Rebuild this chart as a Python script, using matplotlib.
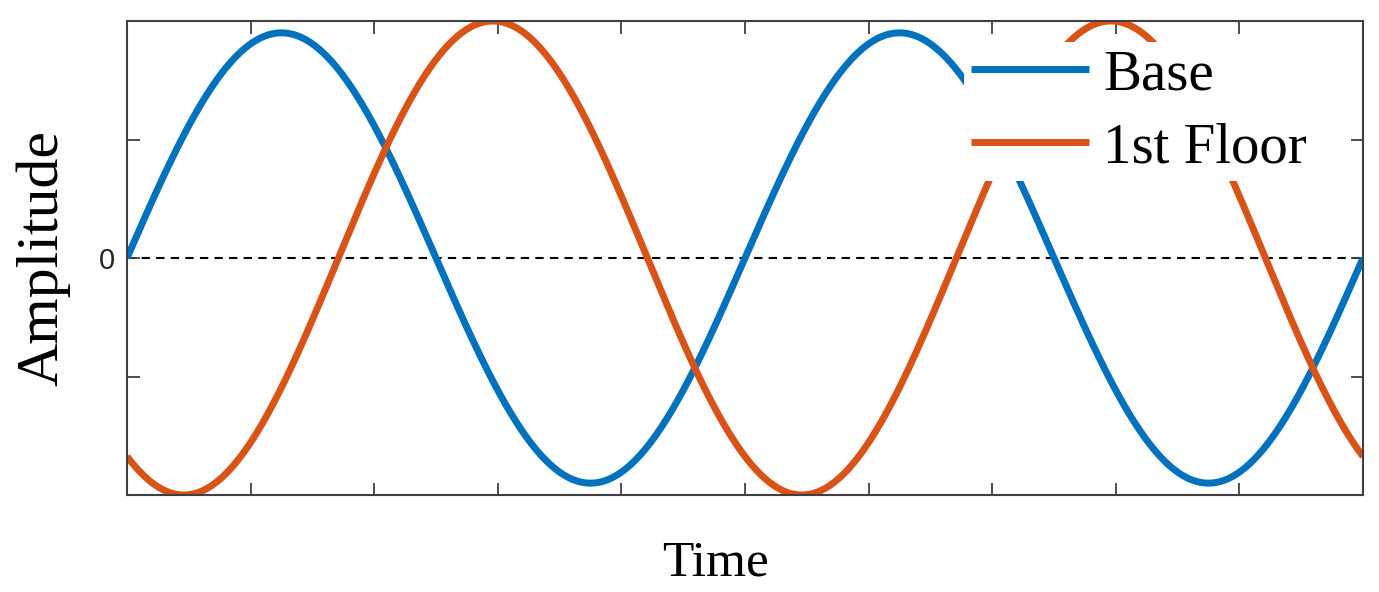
import matplotlib
matplotlib.use("Agg")
import matplotlib.pyplot as plt
import numpy as np

# values (time in tick units, 10 intervals)
time_ticks = [0, 1, 2, 3, 4, 5, 6, 7, 8, 9, 10]
amp_ticks = [-2, -1, 0, 1, 2]
amp_tick_labels = ["", "", "0", "", ""]

series_names = ["Base", "1st Floor"]
series_colors = ["#0072BD", "#D95319"]
amplitudes = [1.9, 2.0]      # peak height of each wave
periods = [5.0, 5.0]         # one cycle spans 5 tick intervals
lags = [0.0, 1.71]           # upward zero crossing of each wave

t = np.linspace(time_ticks[0], time_ticks[-1], 1200)

fig = plt.figure(figsize=(13.79, 5.92), dpi=100)
ax = fig.add_axes([127 / 1379, 1 - 495 / 592, 1236 / 1379, 474 / 592])

for name, color, a, p, lag in zip(series_names, series_colors, amplitudes, periods, lags):
    ax.plot(t, a * np.sin(2 * np.pi * (t - lag) / p), color=color, lw=5, label=name,
            solid_capstyle="butt")

ax.axhline(0, color="black", lw=1.5, ls=(0, (4, 3)), zorder=1)

ax.set_xlim(time_ticks[0], time_ticks[-1])
ax.set_ylim(amp_ticks[0], amp_ticks[-1])
ax.set_xticks(time_ticks)
ax.set_xticklabels([])
ax.set_yticks(amp_ticks)
ax.set_yticklabels(amp_tick_labels)
ax.tick_params(direction="in", length=9, width=1.3, color="#404040", top=True, right=True,
               pad=9, labelsize=21, labelcolor="#262626", labelfontfamily="Liberation Sans")
for s in ax.spines.values():
    s.set_color("#404040")
    s.set_linewidth(1.5)

serif = "Liberation Serif"
ax.set_xlabel("Time", fontsize=37, family=serif)
ax.xaxis.set_label_coords(0.4765, -0.095)
ax.set_ylabel("Amplitude", fontsize=43, family=serif)
ax.yaxis.set_label_coords(-0.068, 0.5)
ax.yaxis.label.set_va("center")

leg = ax.legend(loc="upper left", bbox_to_anchor=(0.677, 0.955), frameon=True,
                prop={"family": serif, "size": 41}, handlelength=2.08, handletextpad=0.25,
                borderpad=0.12, labelspacing=0.37, borderaxespad=0, fancybox=False)
leg.get_frame().set_facecolor("white")
leg.get_frame().set_edgecolor("none")
leg.get_frame().set_alpha(1)

fig.savefig("out.png", dpi=100)
